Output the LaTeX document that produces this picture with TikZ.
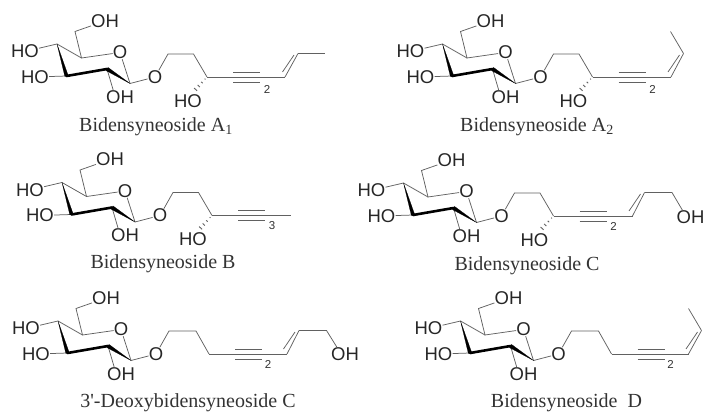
\documentclass[tikz,border=0pt]{standalone}
\usepackage{fontspec}
\setmainfont{Liberation Serif}
\newfontfamily\atomfont{Liberation Sans}
\usetikzlibrary{calc}
\definecolor{bondgray}{gray}{0.38}
\tikzset{
  atom/.style={font=\atomfont\fontsize{18.5}{18.5}\selectfont, inner sep=0pt, text=black!85},
  bond/.style={draw=bondgray, line width=0.75pt},
  wedge/.style={fill=black, draw=black, line width=0.2pt, line join=round},
  repeatno/.style={font=\atomfont\fontsize{11.5}{11.5}\selectfont, inner sep=0pt, text=black!80},
  caption/.style={font=\fontsize{20}{20}\selectfont, inner sep=0pt, text=black!80}
}
\newcommand{\sugar}
{  \coordinate (cfive) at (81.5,58); \coordinate (cfour) at (57,44);
   \coordinate (cthree) at (66.5,76); \coordinate (ctwo) at (107,69);
   \coordinate (cone) at (130,83.5); \coordinate (csix) at (75,31.5);
   \node[atom] (ring) at (120,52.5) {O};
   \node[atom] (ohsix) at (105,21) {OH};
   \node[atom] (hofour) at (25,51.5) {HO};
   \node[atom] (hothree) at (35,77) {HO};
   \node[atom] (ohtwo) at (120,97) {OH};
   \node[atom] (glyc) at (155,77) {O};
   \draw[bond] (ohsix) -- (csix) -- (cfive) -- (ring);
   \draw[bond] (cfive) -- (cfour) -- (hofour);
   \draw[bond] (cthree) -- (hothree);
   \draw[bond] (ctwo) -- (ohtwo.135);
   \draw[bond] (ring) -- (cone) -- (glyc);
   \fill[wedge] (cone) -- ($(ctwo)+(1,-1.6)$) -- ($(ctwo)+(-1,1.6)$) -- cycle;
   \fill[wedge] (cfour) -- ($(cthree)+(-1.7,0.3)$) -- ($(cthree)+(1.7,-0.5)$) -- cycle;
   \draw[black, line width=2.6pt, line cap=round] (cthree) -- (ctwo);
}
\newcommand{\hydroxychain}
{  \coordinate (ca) at (168,54); \coordinate (cb) at (193.5,54);
   \coordinate (stereo) at (207,77);
   \node[atom] (hochain) at (188,101) {HO};
   \draw[bond] (glyc) -- (ca) -- (cb) -- (stereo);
   \foreach \t/\w in {0.12/0.5,0.32/1,0.52/1.5,0.72/2}
     \draw[bondgray, line width=0.9pt] ($(stereo)!\t!(hochain.65)!\w pt!90:(hochain.65)$) -- ($(stereo)!\t!(hochain.65)!\w pt!-90:(hochain.65)$);
}
\newcommand{\deoxychain}
{  \coordinate (ca) at (168,54); \coordinate (cb) at (195,54);
   \coordinate (stereo) at (208,77);
   \draw[bond] (glyc) -- (ca) -- (cb) -- (stereo);
}
\newcommand{\yne}[3]
{  \coordinate (yend) at #1;
   \coordinate (ya) at ($(stereo)+(26,-5)$); \coordinate (yb) at ($(ya)+(27,0)$);
   \coordinate (yc) at ($(stereo)+(26,5)$); \coordinate (yd) at ($(yc)+(27,0)$);
   \draw[bond] (stereo) -- (yend);
   \draw[bond] (ya) -- (yb);
   \draw[bond] (yc) -- (yd);
   \node[repeatno] (num) at #2 {#3};
}
\newcommand{\enetail}
{  \coordinate (ea) at (298,53.5);
   \coordinate (eb) at (282.5,72); \coordinate (ec) at (294,55);
   \draw[bond] (yend) -- (ea);
   \draw[bond] (eb) -- (ec);
}
\begin{document}
\begin{tikzpicture}[x=1pt,y=-1pt]
 \useasboundingbox (0,0) rectangle (715,420);

 % A1
 \begin{scope}[name prefix=aone-]
   \sugar \hydroxychain
   \yne{(285,77)}{(267,89)}{2}
   \enetail
   \coordinate (me) at (325,53.5);
   \draw[bond] (ea) -- (me);
 \end{scope}
 % A2
 \begin{scope}[shift={(385.5,0)},name prefix=atwo-]
   \sugar \hydroxychain
   \yne{(285.5,77)}{(267,89)}{2}
   \enetail
   \coordinate (me) at (285,31.5);
   \draw[bond] (ea) -- (me);
 \end{scope}
 % B
 \begin{scope}[shift={(5,138.5)},name prefix=bee-]
   \sugar \hydroxychain
   \yne{(286,77)}{(267,87)}{3}
 \end{scope}
 % C
 \begin{scope}[shift={(346.5,139)},name prefix=cee-]
   \sugar \hydroxychain
   \yne{(286,77)}{(267,87.5)}{2}
   \enetail
   \coordinate (ed) at (325.5,53.5);
   \node[atom] (ohend) at (344,78) {OH};
   \draw[bond] (ea) -- (ed) -- (ohend.140);
 \end{scope}
 % deoxy C
 \begin{scope}[shift={(1,277)},name prefix=dec-]
   \sugar \deoxychain
   \yne{(286,77)}{(267,87.5)}{2}
   \enetail
   \coordinate (ed) at (325.5,53.5);
   \node[atom] (ohend) at (344,77) {OH};
   \draw[bond] (ea) -- (ed) -- (ohend.140);
 \end{scope}
 % D
 \begin{scope}[shift={(403.5,277)},name prefix=dee-]
   \sugar \deoxychain
   \yne{(285,77)}{(267,87.5)}{2}
   \enetail
   \coordinate (me) at (285,31.5);
   \draw[bond] (ea) -- (me);
 \end{scope}

 \node[caption] (capaone) at (156,127) {Bidensyneoside A\textsubscript{1}};
 \node[caption] (capatwo) at (537,127) {Bidensyneoside A\textsubscript{2}};
 \node[caption] (capb) at (163,264) {Bidensyneoside B};
 \node[caption] (capc) at (527,266) {Bidensyneoside C};
 \node[caption] (capdec) at (188,403) {3\textquotesingle-Deoxybidensyneoside C};
 \node[caption] (capd) at (566.5,403) {Bidensyneoside\ \ D};
\end{tikzpicture}
\end{document}
